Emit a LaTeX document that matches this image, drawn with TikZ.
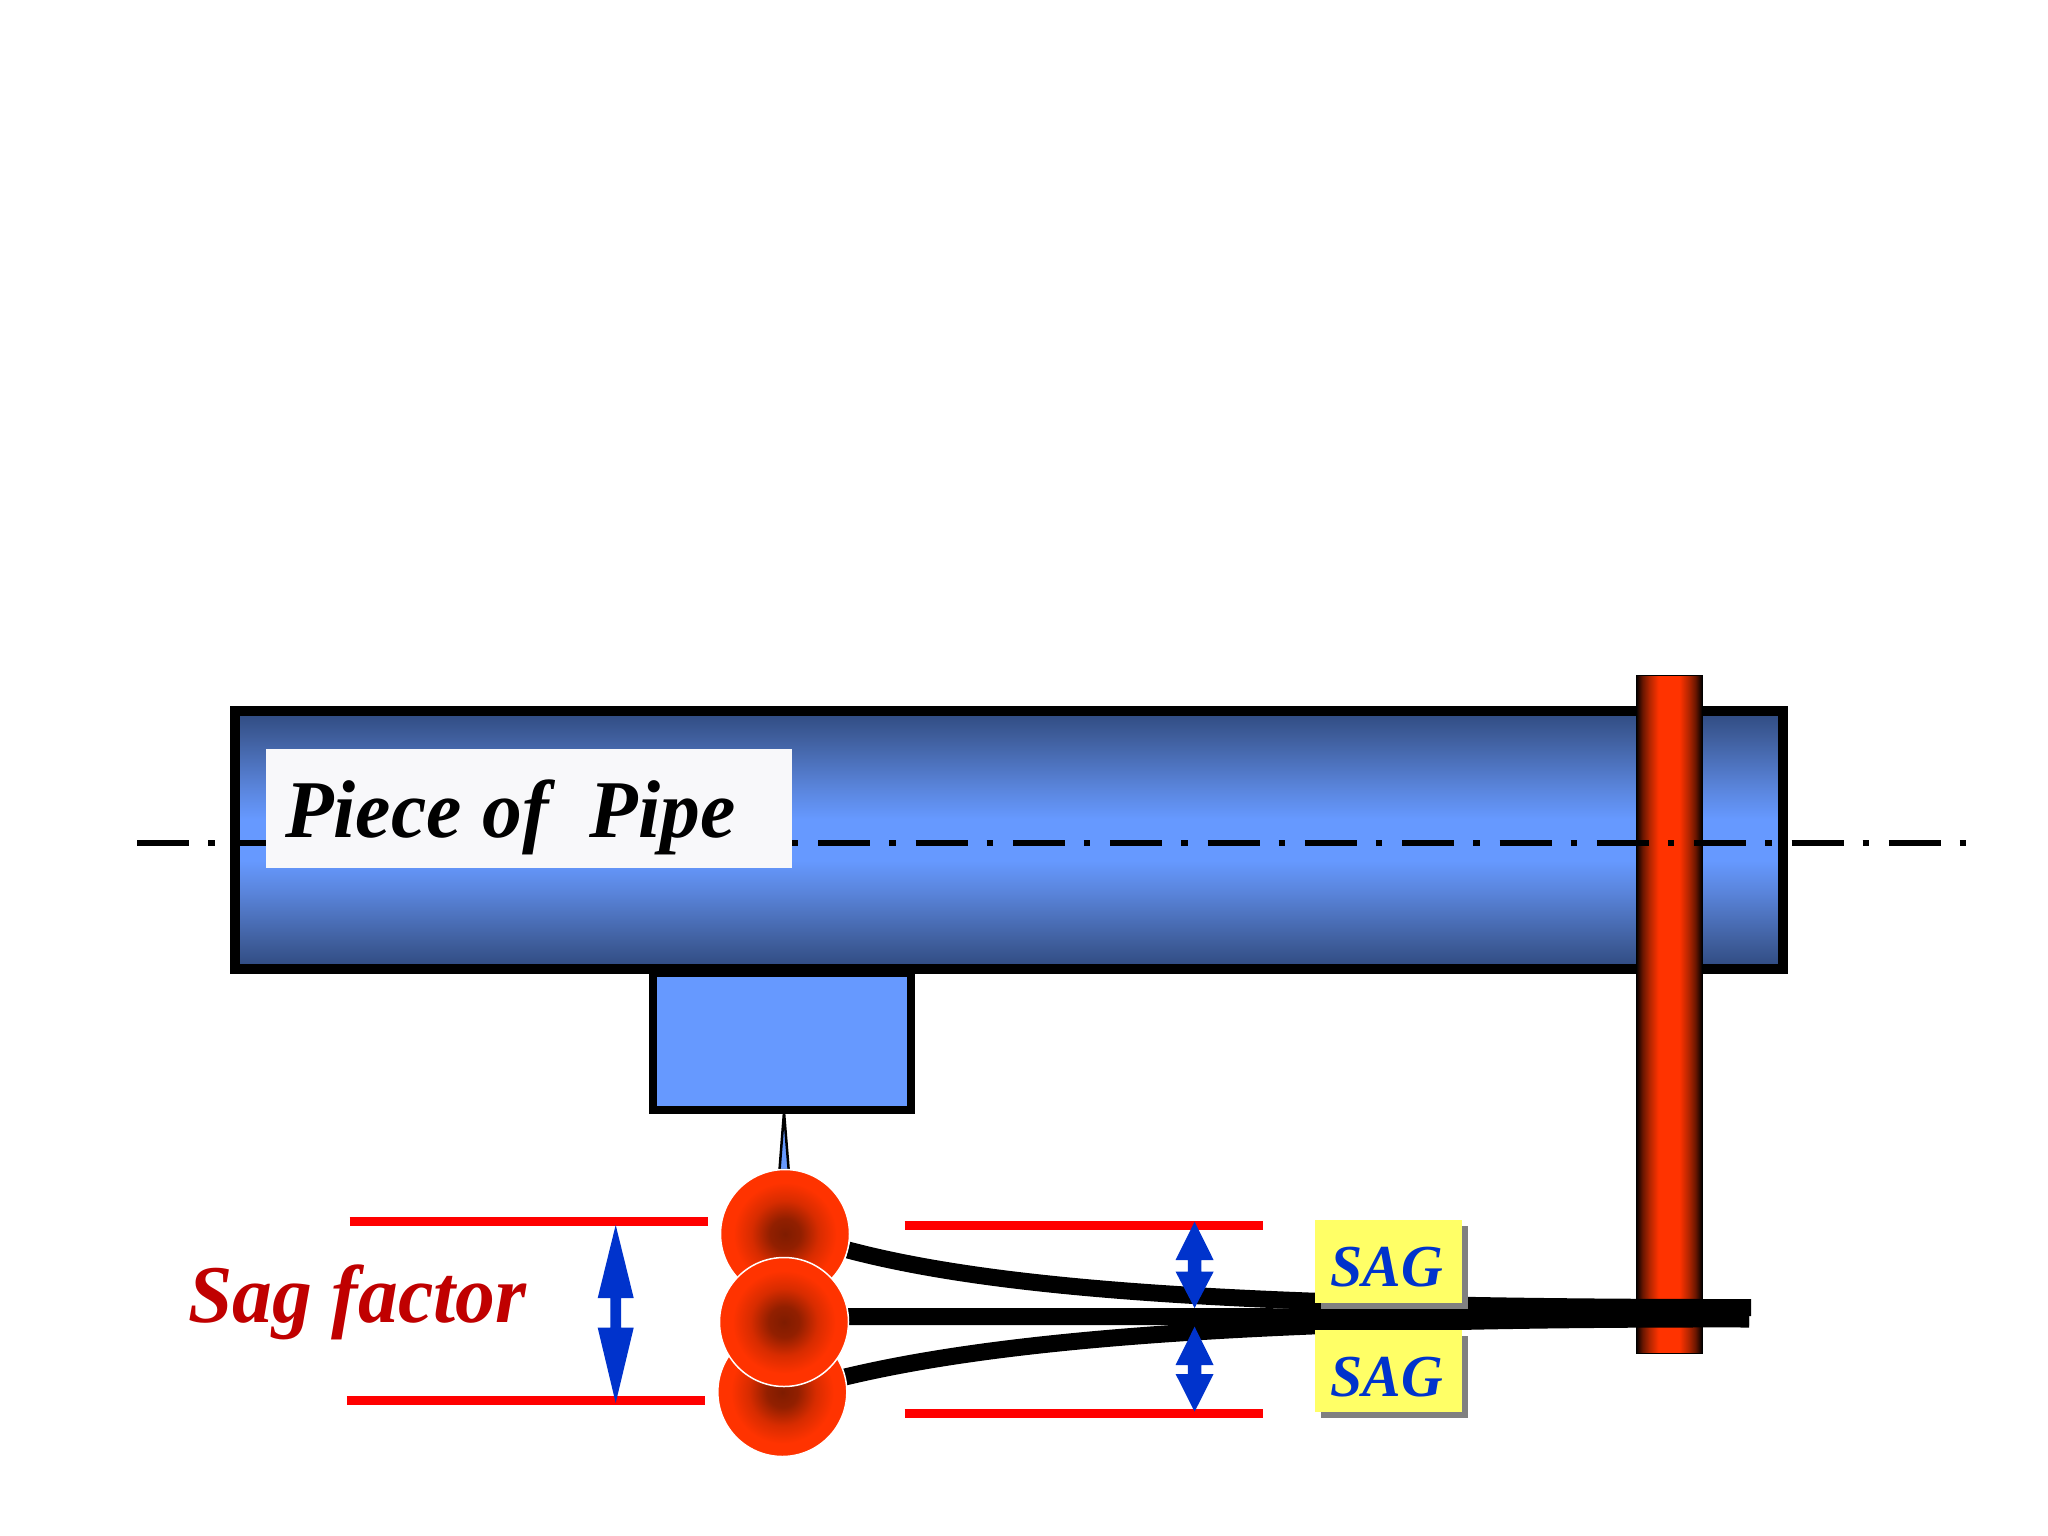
\documentclass[tikz,border=0pt]{standalone}
\usepackage{fontspec}
\setmainfont{Liberation Serif}
\newfontfamily\sagfont[FakeStretch=0.97]{Liberation Serif}
\usetikzlibrary{shadows}
\definecolor{pipeblue}{HTML}{6699FF}
\definecolor{pipedark}{HTML}{2F4A80}
\definecolor{pipemid}{HTML}{3F5E9C}
\definecolor{pipelite}{HTML}{5A85DC}
\definecolor{hot}{HTML}{FF3300}
\definecolor{hotcore}{HTML}{7F1C00}
\definecolor{hotmid}{HTML}{B02500}
\definecolor{arrowblue}{HTML}{0033CC}
\definecolor{sagred}{HTML}{C00000}
\definecolor{labelwhite}{HTML}{F8F8FA}
\definecolor{sagyellow}{HTML}{FFFF66}
\pgfdeclareverticalshading{pipeshade}{100bp}{color(0bp)=(pipedark); color(25bp)=(pipedark); color(30bp)=(pipemid); color(40bp)=(pipelite); color(46bp)=(pipeblue); color(54bp)=(pipeblue); color(60bp)=(pipelite); color(70bp)=(pipemid); color(75bp)=(pipedark); color(100bp)=(pipedark)}
\pgfdeclarehorizontalshading{barshade}{100bp}{color(0bp)=(black); color(25bp)=(black); color(30bp)=(hotmid!60!black); color(35bp)=(hotmid); color(42bp)=(hot); color(58bp)=(hot); color(65bp)=(hotmid); color(70bp)=(hotmid!60!black); color(75bp)=(black); color(100bp)=(black)}
\pgfdeclareradialshading{ballshade}{\pgfpoint{0bp}{0bp}}{color(0bp)=(hotcore); color(6bp)=(hotcore!85!hot); color(13bp)=(hotmid!50!hot); color(20bp)=(hot); color(50bp)=(hot)}
\tikzset{
  pipebody/.style={draw=black,line width=10pt,shading=pipeshade,shading angle=0},
  mount/.style={draw=black,line width=8.5pt,fill=pipeblue},
  needle/.style={draw=black,line width=2.5pt,fill=pipeblue,line join=miter},
  flange/.style={draw=black,line width=1pt,shading=barshade,shading angle=0},
  axisline/.style={line width=6.5pt,black,dash pattern=on 52pt off 19pt on 6.5pt off 19.83pt},
  ball/.style={circle,draw=white,line width=1.5pt,inner sep=0pt,minimum size=129pt,shading=ballshade},
  wire/.style={draw=black,line width=17pt,line cap=butt},
  redline/.style={draw=red,line width=9pt},
  bluearrow/.style={fill=arrowblue,draw=none},
  ptext/.style={font=\fontsize{82}{82}\sagfont\bfseries\itshape},
  sagbox/.style={fill=sagyellow,inner sep=0pt,minimum width=147pt,text=arrowblue,
    font=\fontsize{59.5}{60}\sagfont\bfseries\itshape,
    general shadow={fill=black!50,shadow xshift=5.5pt,shadow yshift=-6pt}}
}
\newcommand{\sagarrow}[7]{% x, top, base1, base2, bottom, head half, shaft half
  \fill[bluearrow] (#1,#2) -- (#1+#6,#3) -- (#1+#7,#3) -- (#1+#7,#4) -- (#1+#6,#4) -- (#1,#5)
    -- (#1-#6,#4) -- (#1-#7,#4) -- (#1-#7,#3) -- (#1-#6,#3) -- cycle;}
\begin{document}
\begin{tikzpicture}[x=1pt,y=-1pt]
\useasboundingbox (0,0) rectangle (2048,1536);
\fill[white] (0,0) rectangle (2048,1536);
% small mount and needle
\draw[needle] (784,1112) -- (788.7,1170) -- (779.5,1170) -- cycle;
\draw[mount] (653,973) rectangle (911,1110);
% pipe
\draw[pipebody] (234.5,711) rectangle (1782.5,968.5);
% flange
\draw[flange] (1636,675.5) rectangle (1702,1353);
% centre line
\coordinate (axisL) at (137,843);
\coordinate (axisR) at (1967,843);
\draw[axisline] (axisL) -- (axisR);
% pipe label
\node (pipelabel) [anchor=north west,fill=labelwhite,inner xsep=19pt,inner ysep=0pt,text width=488pt,align=left,
  text height=88pt,text depth=31pt,ptext] at (266,749) {Piece\hspace{0.25em}of\hspace{0.5em}Pipe};
% wires
\coordinate (wireAa) at (848,1250);
\coordinate (wireAb) at (1751,1307.5);
\coordinate (wireBa) at (848,1316.5);
\coordinate (wireBb) at (1749,1317);
\coordinate (wireCa) at (845,1377);
\coordinate (wireCb) at (1749,1319);
\draw[wire] (wireAa) .. controls (1000,1290) and (1250,1308) .. (wireAb);
\draw[wire] (wireBa) -- (wireBb);
\draw[wire] (wireCa) .. controls (1000,1340) and (1250,1318) .. (wireCb);
% balls
\node (ballT) [ball] at (785,1234) {};
\node (ballB) [ball] at (782.3,1392) {};
\node (ballM) [ball] at (784,1322) {};
% red limit lines
\draw[redline] (349.6,1221) -- (707.5,1221);
\draw[redline] (346.8,1400) -- (704.6,1400);
\draw[redline] (904.7,1225) -- (1263,1225);
\draw[redline] (904.7,1413) -- (1263,1413);
% arrows
\sagarrow{615.7}{1225}{1298}{1327.7}{1403}{18}{5.4}
\sagarrow{1194.6}{1221.7}{1260}{1271.7}{1308}{19}{6.7}
\sagarrow{1194.6}{1326.7}{1365}{1374}{1411.7}{19}{6.7}
% SAG boxes
\node (sagA) [sagbox,text height=66.7pt,text depth=16.3pt,anchor=north] at (1388.5,1219.3) {\hspace*{-3pt}SAG};
\node (sagB) [sagbox,text height=66.7pt,text depth=15.3pt,anchor=north] at (1388.5,1330) {\hspace*{-3pt}SAG};
% Sag factor
\node (sagfactor) [anchor=base west,inner sep=0pt,text=sagred,ptext] at (188,1322) {Sag factor};
\end{tikzpicture}
\end{document}
